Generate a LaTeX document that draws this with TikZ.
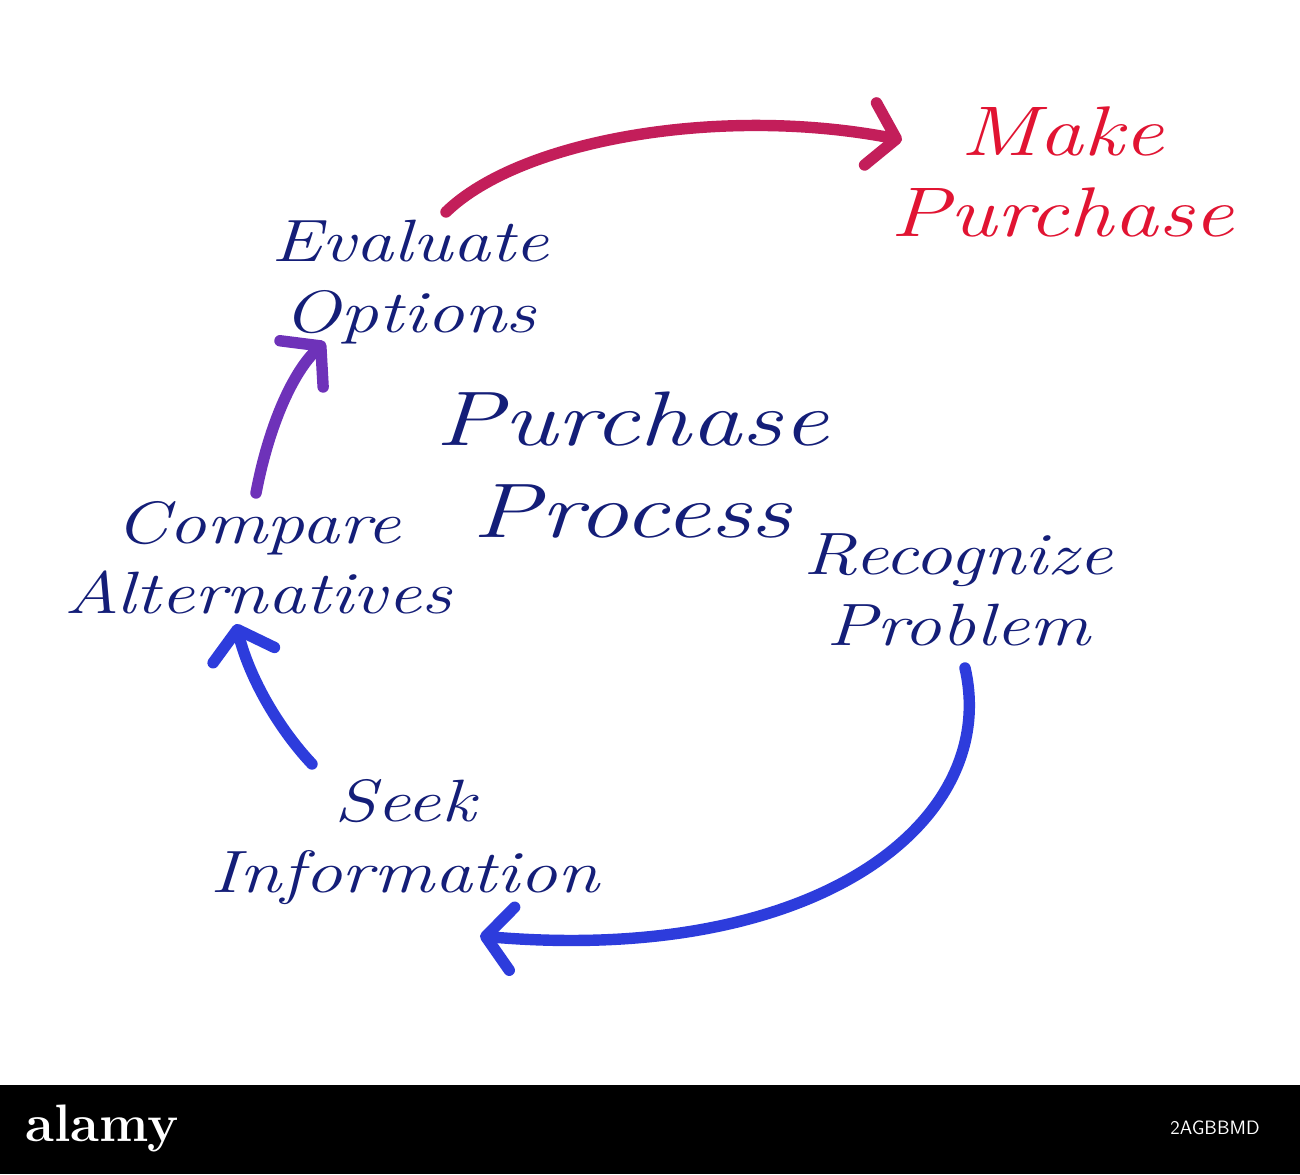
\documentclass[tikz,border=0pt]{standalone}
\usepackage{fontspec}
\usetikzlibrary{arrows.meta}
\definecolor{navy}{RGB}{20,30,120}
\definecolor{mred}{RGB}{225,20,50}
\definecolor{crim}{RGB}{195,30,90}
\definecolor{purp}{RGB}{110,50,185}
\definecolor{blu}{RGB}{45,60,220}
\tikzset{lbl/.style={font=\itshape\fontsize{34}{40}\selectfont,text=navy,align=center,inner sep=0pt,xscale=1.27,transform shape},
arr/.style={line width=6.5pt,line cap=round,-{Straight Barb[length=15pt,width=36pt,line width=6.5pt,round]}}}
\begin{document}
\begin{tikzpicture}[x=0.02cm,y=-0.02cm]
\useasboundingbox (0,0) rectangle (1300,1174);
\fill[white] (0,0) rectangle (1300,1174);
\node[lbl,text=mred,font=\itshape\fontsize{40}{46}\selectfont] (mk) at (1062,172) {Make\\Purchase};
\node[lbl] (ev) at (410,282) {Evaluate\\Options};
\node[lbl,font=\itshape\fontsize{44}{52}\selectfont,xscale=1.04] (pp) at (632,465) {Purchase\\Process};
\node[lbl] (ca) at (258,558) {Compare\\Alternatives};
\node[lbl] (rp) at (958,590) {Recognize\\Problem};
\node[lbl] (si) at (405,842) {Seek\\Information};
\coordinate (a1) at (446,212); \coordinate (b1) at (902,140);
\coordinate (a2) at (256,493); \coordinate (b2) at (325,342);
\coordinate (a3) at (312,764); \coordinate (b3) at (236,624);
\coordinate (a4) at (965,668); \coordinate (b4) at (480,936);
\draw[arr,crim] (a1) .. controls (520,140) and (720,105) .. (b1);
\draw[arr,purp] (a2) .. controls (270,420) and (295,370) .. (b2);
\draw[arr,blu] (a3) .. controls (280,730) and (250,680) .. (b3);
\draw[arr,blu] (a4) .. controls (1000,820) and (820,965) .. (b4);
\fill[black] (0,1085) rectangle (1300,1174);
\node[font=\bfseries\fontsize{30}{34}\selectfont,text=white] (al) at (102,1128) {alamy};
\node[font=\sffamily\fontsize{11}{13}\selectfont,text=white] (id) at (1215,1128) {2AGBBMD};
\end{tikzpicture}
\end{document}
